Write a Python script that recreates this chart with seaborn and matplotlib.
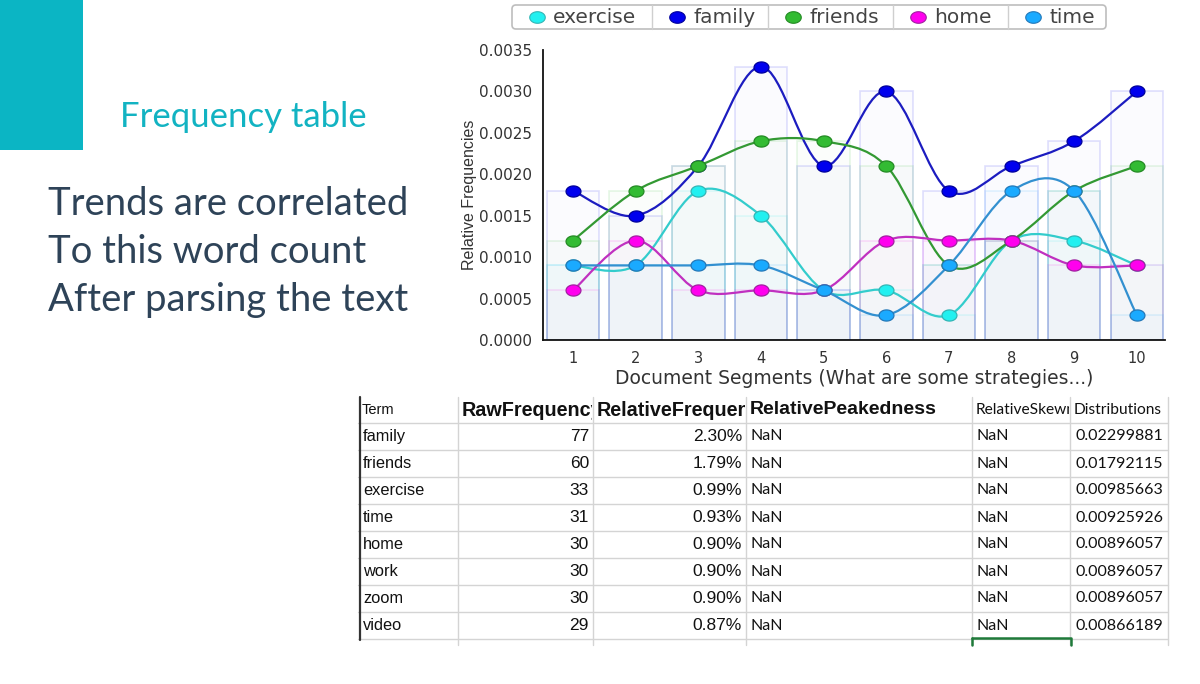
import numpy as np
import pandas as pd
import matplotlib
matplotlib.use("Agg")
import matplotlib.pyplot as plt
import seaborn as sns
from matplotlib.path import Path
from matplotlib.patches import PathPatch, Rectangle, FancyBboxPatch
from matplotlib.transforms import Bbox
from matplotlib.colors import to_rgba

# ---------------- data ----------------
segments = [1, 2, 3, 4, 5, 6, 7, 8, 9, 10]
exercise = [0.0009, 0.0009, 0.0018, 0.0015, 0.0006, 0.0006, 0.0003, 0.0012, 0.0012, 0.0009]
family = [0.0018, 0.0015, 0.0021, 0.0033, 0.0021, 0.0030, 0.0018, 0.0021, 0.0024, 0.0030]
friends = [0.0012, 0.0018, 0.0021, 0.0024, 0.0024, 0.0021, 0.0009, 0.0012, 0.0018, 0.0021]
home = [0.0006, 0.0012, 0.0006, 0.0006, 0.0006, 0.0012, 0.0012, 0.0012, 0.0009, 0.0009]
time_ = [0.0009, 0.0009, 0.0009, 0.0009, 0.0006, 0.0003, 0.0009, 0.0018, 0.0018, 0.0003]
series_names = ["exercise", "family", "friends", "home", "time"]
series_values = [exercise, family, friends, home, time_]
y_ticks = [0.0, 0.0005, 0.0010, 0.0015, 0.0020, 0.0025, 0.0030, 0.0035]

table_columns = ["Term", "RawFrequency", "RelativeFrequency", "RelativePeakedness",
                 "RelativeSkewness", "Distributions"]
terms = ["family", "friends", "exercise", "time", "home", "work", "zoom", "video"]
raw_freq = [77, 60, 33, 31, 30, 30, 30, 29]
rel_freq = [2.30, 1.79, 0.99, 0.93, 0.90, 0.90, 0.90, 0.87]
peakedness = ["NaN"] * 8
skewness = ["NaN"] * 8
distributions = [0.02299881, 0.01792115, 0.00985663, 0.00925926,
                 0.00896057, 0.00896057, 0.00896057, 0.00866189]

title = "Frequency table"
body_lines = ["Trends are correlated", "To this word count", "After parsing the text"]

# ---------------- style ----------------
marker_face = {"exercise": "#22f0f0", "family": "#0000ee", "friends": "#33bb33",
               "home": "#ff00ee", "time": "#1aaaff"}
marker_edge = {"exercise": "#33b5b5", "family": "#00009a", "friends": "#238a23",
               "home": "#a020a0", "time": "#2478b8"}
line_col = {"exercise": "#33cccc", "family": "#1c1cc0", "friends": "#339933",
            "home": "#c030c0", "time": "#3390d0"}

sns.set_theme(style="white")
plt.rcParams["font.family"] = ["DejaVu Sans"]

W, H = 1200, 684
fig = plt.figure(figsize=(W / 100, H / 100), dpi=100)
fig.patch.set_facecolor("white")

# background axes in pixel coordinates (slide decoration, legend, table)
bg = fig.add_axes([0, 0, 1, 1])
bg.set_xlim(0, W)
bg.set_ylim(H, 0)
bg.axis("off")

# ellipse marker (the screenshot is horizontally stretched)
theta = np.linspace(0, 2 * np.pi, 64)
ellipse = Path(np.column_stack([1.34 * np.cos(theta), np.sin(theta)]), closed=True)

# ---------------- left slide text ----------------
bg.add_patch(Rectangle((0, 0), 83, 150, facecolor="#0bb5c4", edgecolor="none"))
bg.text(120, 117, title, fontsize=25, color="#12b3c2", family=["Lato", "DejaVu Sans"],
        fontweight="normal", ha="left", va="center")
for i, line in enumerate(body_lines):
    bg.text(48, 204 + 48 * i, line, fontsize=27.5, color="#2e4358",
            family=["Lato", "DejaVu Sans"], ha="left", va="center")

# ---------------- chart ----------------
ax_l, ax_r, ax_t, ax_b = 543, 1165, 50, 340
ax = fig.add_axes([ax_l / W, 1 - ax_b / H, (ax_r - ax_l) / W, (ax_b - ax_t) / H])
ax.set_facecolor("none")

for name, vals in zip(series_names, series_values):
    n0 = len(ax.patches)
    sns.barplot(x=segments, y=vals, native_scale=True, width=0.84, errorbar=None,
                color=marker_face[name], ax=ax)
    for p in ax.patches[n0:]:
        p.set_facecolor(to_rgba(marker_face[name], 0.014))
        p.set_edgecolor(to_rgba(marker_face[name], 0.12))
        p.set_linewidth(1.2)


def smooth_path(xs, ys):
    pts = np.column_stack([xs, ys]).astype(float)
    ext = np.vstack([pts[0], pts, pts[-1]])
    verts = [pts[0]]
    codes = [Path.MOVETO]
    for i in range(len(pts) - 1):
        p0, p1, p2, p3 = ext[i], ext[i + 1], ext[i + 2], ext[i + 3]
        verts += [p1 + (p2 - p0) / 6, p2 - (p3 - p1) / 6, p2]
        codes += [Path.CURVE4] * 3
    return Path(verts, codes)


for k, (name, vals) in enumerate(zip(series_names, series_values)):
    ax.add_patch(PathPatch(smooth_path(segments, vals), fill=False,
                           edgecolor=line_col[name], lw=1.6, zorder=3 + 2 * k))
    sns.scatterplot(x=segments, y=vals, marker=ellipse, s=115, color=marker_face[name],
                    edgecolor=marker_edge[name], linewidth=0.9, ax=ax, zorder=4 + 2 * k,
                    legend=False)

ax.set_xlim(0.52, 10.45)
ax.set_ylim(0, 0.0035)
ax.set_xticks(segments)
ax.set_xticklabels([str(s) for s in segments])
ax.set_yticks(y_ticks)
ax.set_yticklabels([f"{v:.4f}" for v in y_ticks])
for s in ["top", "right"]:
    ax.spines[s].set_visible(False)
for s in ["left", "bottom"]:
    ax.spines[s].set_color("#111111")
    ax.spines[s].set_linewidth(1.3)
ax.tick_params(axis="both", direction="out", length=5, width=1.2, color="#111111",
               labelsize=11, labelcolor="#333333", pad=3)
ax.tick_params(axis="x", pad=3, labelsize=10.5)
ax.set_xlabel("Document Segments (What are some strategies...)", fontsize=13.5,
              color="#333333", labelpad=2)
ax.set_ylabel("Relative Frequencies", fontsize=11.5, color="#333333",
              family=["Liberation Sans", "DejaVu Sans"], labelpad=1)
ax.grid(False)

# ---------------- legend (custom, segmented box) ----------------
bg.add_patch(FancyBboxPatch((512, 5), 594, 24, boxstyle="round,pad=0,rounding_size=4",
                            facecolor="white", edgecolor="#bdbdbd", lw=1.2))
leg_starts = [512, 652, 768, 893, 1008]
for xs in leg_starts[1:]:
    bg.plot([xs, xs], [5, 29], color="#cfcfcf", lw=1.0)
for xs, name in zip(leg_starts, series_names):
    bg.scatter([xs + 25], [17], marker=ellipse, s=125, color=marker_face[name],
               edgecolor=marker_edge[name], linewidth=0.8, zorder=5)
    bg.text(xs + 41, 17.5, name, fontsize=14.5, color="#444444", ha="left", va="center")

# ---------------- table ----------------
col_edges = [358, 458, 593, 746, 972, 1070, 1168]
row_top = 397
hdr_h = 26
row_h = 27
grid_col = "#d4d4d4"
for r in range(len(terms) + 1):
    y = row_top + hdr_h + r * row_h
    bg.plot([col_edges[0], col_edges[-1]], [y, y], color=grid_col, lw=1.0)
for xe in col_edges[1:]:
    bg.plot([xe, xe], [row_top, 645], color=grid_col, lw=1.0)
bg.plot([360, 360], [row_top, 640], color="#333333", lw=1.6)
bg.plot([972, 1071, 1071], [638, 638, 645], color="#1f7a3a", lw=1.8)
bg.plot([972, 972], [638, 645], color="#1f7a3a", lw=1.8)

header_y = row_top + 13
hdr_specs = [
    dict(fontsize=10.5, family=["Liberation Sans"], fontweight="normal"),
    dict(fontsize=14.2, family=["Liberation Sans"], fontweight="bold"),
    dict(fontsize=14.2, family=["Liberation Sans"], fontweight="bold"),
    dict(fontsize=14.0, family=["Liberation Sans"], fontweight="bold"),
    dict(fontsize=11.2, family=["Lato"], fontweight="normal"),
    dict(fontsize=11.2, family=["Lato"], fontweight="normal"),
]
hdr_texts = []
for j, (name, spec) in enumerate(zip(table_columns, hdr_specs)):
    t = bg.text(col_edges[j] + 4, header_y, name, color="#111111", ha="left",
                va="center", **spec)
    hdr_texts.append((t, col_edges[j], col_edges[j + 1] - 1))
fig.canvas.draw()
# header cells clip their text at the column border, as in the spreadsheet
for t, x0p, x1p in hdr_texts:
    (x0, _), (x1, _) = bg.transData.transform([(x0p, 0), (x1p, 0)])
    t.set_clip_on(True)
    t.set_clip_box(Bbox.from_extents(x0, 0, x1, fig.bbox.height))

for i in range(len(terms)):
    yc = row_top + hdr_h + i * row_h + 13.5
    bg.text(col_edges[0] + 5, yc, terms[i], fontsize=11.8, family=["Liberation Sans"],
            color="#111111", ha="left", va="center")
    bg.text(col_edges[2] - 4, yc, f"{raw_freq[i]}", fontsize=12.5,
            family=["Liberation Sans"], color="#111111", ha="right", va="center")
    bg.text(col_edges[3] - 4, yc, f"{rel_freq[i]:.2f}%", fontsize=12.5,
            family=["Liberation Sans"], color="#111111", ha="right", va="center")
    bg.text(col_edges[3] + 5, yc, peakedness[i], fontsize=11.5, family=["Lato"],
            color="#111111", ha="left", va="center")
    bg.text(col_edges[4] + 5, yc, skewness[i], fontsize=11.5, family=["Lato"],
            color="#111111", ha="left", va="center")
    bg.text(col_edges[6] - 5, yc, f"{distributions[i]:.8f}", fontsize=11.5,
            family=["Lato"], color="#111111", ha="right", va="center")

fig.savefig("out.png", dpi=100, facecolor="white")
